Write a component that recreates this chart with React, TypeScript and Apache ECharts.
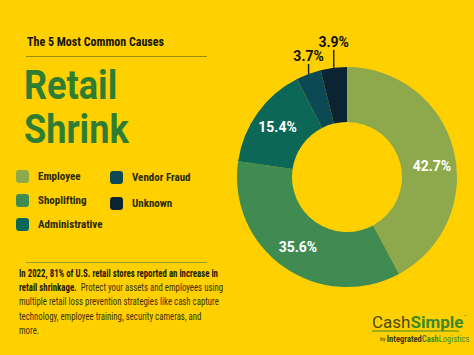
import React, { useEffect, useRef } from "react";
import * as echarts from "echarts";

const categories = ["Employee", "Shoplifting", "Administrative", "Vendor Fraud", "Unknown"];
const shares = [42.7, 35.6, 15.4, 3.7, 3.9];
const sliceColors = ["#8EA94C", "#3F8B51", "#0C6756", "#0B4A55", "#0A2433"];
const legendColumnA = ["Employee", "Shoplifting", "Administrative"];
const legendColumnB = ["Vendor Fraud", "Unknown"];
const titleText = "The 5 Most Common Causes";
const headline = ["Retail", "Shrink"];
const paragraphLines = [
  "{b|In 2022, 81% of U.S. retail stores reported an increase in}",
  "{b|retail shrinkage.}{n|  Protect your assets and employees using}",
  "{n|multiple retail loss prevention strategies like cash capture}",
  "{n|technology, employee training, security cameras, and}",
  "{n|more.}",
];

const BG = "#FFD000";
const NARROW = "'Liberation Sans Narrow', 'Roboto Condensed', Roboto, sans-serif";

export default function App() {
  const ref = useRef<HTMLDivElement>(null);
  useEffect(() => {
    if (!ref.current) return;
    const chart = echarts.init(ref.current, undefined, { renderer: "svg" });
    const legendCommon = {
      orient: "vertical" as const,
      icon: "roundRect",
      itemWidth: 13,
      itemHeight: 13,
      selectedMode: false,
      textStyle: {
        fontFamily: NARROW,
        fontWeight: "bold",
        fontSize: 11,
        color: "#2a2a0e",
        padding: [0, 0, 0, 4],
      },
      padding: 0,
    };
    const paraGraphics = paragraphLines.map((t, i) => ({
      type: "text",
      x: 19,
      y: 267.5 + i * 14.3,
      scaleX: 0.8,
      style: {
        text: t,
        rich: {
          b: { fontFamily: NARROW, fontWeight: "bold", fontSize: 11, fill: "#1e1a00" },
          n: { fontFamily: NARROW, fontWeight: "normal", fontSize: 11, fill: "#3a3200" },
        },
      },
    }));
    chart.setOption({
      animation: false,
      backgroundColor: BG,
      color: sliceColors,
      legend: [
        { ...legendCommon, data: legendColumnA, left: 16, top: 170, itemGap: 11 },
        { ...legendCommon, data: legendColumnB, left: 110, top: 171, itemGap: 13 },
      ],
      graphic: [
        {
          type: "text",
          left: 27,
          top: 36,
          style: { text: titleText, fontFamily: NARROW, fontWeight: "bold", fontSize: 12, fill: "#15140a" },
        },
        { type: "line", shape: { x1: 26, y1: 56.5, x2: 207, y2: 56.5 }, style: { stroke: "#9c8c10", lineWidth: 1 } },
        {
          type: "text",
          x: 24,
          y: 64,
          scaleX: 0.88,
          style: { text: headline[0], fontFamily: "Roboto, sans-serif", fontWeight: "bold", fontSize: 41, fill: "#2F7D32" },
        },
        {
          type: "text",
          x: 24,
          y: 108,
          scaleX: 0.88,
          style: { text: headline[1], fontFamily: "Roboto, sans-serif", fontWeight: "bold", fontSize: 41, fill: "#2F7D32" },
        },
        { type: "line", shape: { x1: 26, y1: 262.5, x2: 207, y2: 262.5 }, style: { stroke: "#9c9c20", lineWidth: 1 } },
        ...paraGraphics,
        {
          type: "text",
          x: 372,
          y: 313,
          style: {
            text: "{c|Cash}{s|Simple}{t|™}",
            rich: {
              c: { fontFamily: "Roboto, sans-serif", fontSize: 17, fontWeight: "normal", fill: "#4A4A0C" },
              s: { fontFamily: "Roboto, sans-serif", fontSize: 17, fontWeight: "bold", fill: "#3C8A2A" },
              t: { fontFamily: "Roboto, sans-serif", fontSize: 5, fill: "#3C8A2A", verticalAlign: "top" },
            },
          },
        },
        { type: "line", shape: { x1: 372, y1: 331, x2: 459, y2: 331 }, style: { stroke: "#3C8A2A", lineWidth: 1 } },
        {
          type: "text",
          x: 380,
          y: 334,
          style: {
            text: "{y|by }{i|Integrated}{g|Cash}{l|Logistics}",
            rich: {
              y: { fontFamily: NARROW, fontSize: 6, fill: "#4A4A0C" },
              i: { fontFamily: NARROW, fontSize: 8.5, fontWeight: "bold", fill: "#3A3A08" },
              g: { fontFamily: NARROW, fontSize: 8.5, fontWeight: "bold", fill: "#3C8A2A" },
              l: { fontFamily: NARROW, fontSize: 8.5, fill: "#3C8A2A" },
            },
          },
        },
      ],
      series: [
        {
          type: "pie",
          center: [347, 177],
          radius: [55, 110],
          startAngle: 90,
          clockwise: true,
          avoidLabelOverlap: false,
          label: {
            show: true,
            position: "inside",
            formatter: (p: any) => `${p.value}%`,
            fontFamily: "Roboto, sans-serif",
            fontWeight: "bold",
            fontSize: 14,
            color: "#ffffff",
          },
          labelLine: { show: false },
          labelLayout: (params: any) => {
            if (params.dataIndex < 3) return {};
            const pts = params.labelLinePoints;
            if (!pts) return {};
            const p0 = pts[0];
            const len = params.dataIndex === 3 ? 10 : 18;
            const x = p0[0];
            const yTop = p0[1] - len;
            return {
              x,
              y: yTop - 8,
              align: "center",
              verticalAlign: "middle",
              labelLinePoints: [p0, [x, yTop], [x, yTop]],
            };
          },
          data: categories.map((name, i) => {
            const item: any = { name, value: shares[i] };
            if (i >= 3) {
              item.label = { position: "outside", color: "#111111", fontSize: 14 };
              item.labelLine = { show: true, length: 10, length2: 0, lineStyle: { color: "#1a2a1a", width: 1.5 } };
            }
            if (i === 0) item.label = { offset: [2, 10] };
            return item;
          }),
        },
      ],
    });
    return () => chart.dispose();
  }, []);
  return <div ref={ref} style={{ position: "fixed", left: 0, top: 0, width: 474, height: 355 }} />;
}
